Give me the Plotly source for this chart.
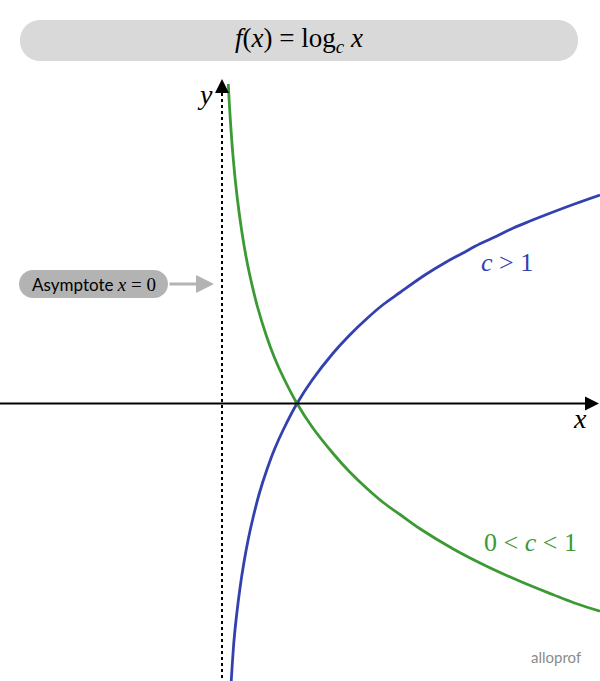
import plotly.graph_objects as go

W, H = 600, 681
UNIT = 75.0          # pixels per data unit on both axes
X0_PX, Y0_PX = 222, 403.5  # pixel position of the origin

# curve samples (x in units, y in units)
blue_x = [0.122, 0.16, 0.196, 0.24, 0.284, 0.35, 0.417, 0.5, 0.596, 0.7, 0.817, 1.0, 1.2, 1.48, 1.7, 1.929,
          2.15, 2.373, 2.7, 2.996, 3.2, 3.44, 3.66, 3.884, 4.1, 4.329, 4.7, 5.04]
blue_y = [-3.72, -3.16, -2.81, -2.46, -2.17, -1.81, -1.51, -1.19, -0.89, -0.61, -0.35, 0.0, 0.31, 0.67, 0.91, 1.13,
          1.32, 1.48, 1.71, 1.89, 2.0, 2.13, 2.23, 2.34, 2.43, 2.52, 2.66, 2.78]

green_x = [0.084, 0.11, 0.151, 0.2, 0.263, 0.32, 0.373, 0.47, 0.596, 0.7, 0.817, 1.0, 1.2, 1.484, 1.7, 1.929,
           2.15, 2.373, 2.64, 3.084, 3.529, 3.973, 4.417, 4.7, 5.04]
green_y = [4.26, 3.80, 3.25, 2.77, 2.30, 1.96, 1.70, 1.30, 0.89, 0.61, 0.35, 0.0, -0.31, -0.67, -0.91, -1.13,
           -1.32, -1.48, -1.67, -1.94, -2.17, -2.37, -2.55, -2.66, -2.77]

TITLE = "<i>f</i>(<i>x</i>) = log<sub><i>c</i></sub> <i>x</i>"
BLUE_LABEL = "<i>c</i> > 1"
GREEN_LABEL = "0 < <i>c</i> < 1"
ASYM_LABEL = 'Asymptote <span style="font-family:Liberation Serif;font-size:19px"><i>x</i> = 0</span>'

BLUE = "#3340b0"
GREEN = "#3b9a34"
SERIF = "Liberation Serif"


def dx(px):
    return (px - X0_PX) / UNIT


def dy(py):
    return (Y0_PX - py) / UNIT


def pill(x0, y0, x1, y1, r):
    """Rounded rectangle path, pixel coords in, data coords out."""
    k = 0.5523 * r
    pts = [
        ("M", [(x0 + r, y0)]), ("L", [(x1 - r, y0)]),
        ("C", [(x1 - r + k, y0), (x1, y0 + r - k), (x1, y0 + r)]),
        ("L", [(x1, y1 - r)]),
        ("C", [(x1, y1 - r + k), (x1 - r + k, y1), (x1 - r, y1)]),
        ("L", [(x0 + r, y1)]),
        ("C", [(x0 + r - k, y1), (x0, y1 - r + k), (x0, y1 - r)]),
        ("L", [(x0, y0 + r)]),
        ("C", [(x0, y0 + r - k), (x0 + r - k, y0), (x0 + r, y0)]),
    ]
    out = ""
    for cmd, ps in pts:
        out += cmd + " ".join(f"{dx(a):.4f},{dy(b):.4f}" for a, b in ps) + " "
    return out + "Z"


fig = go.Figure()
fig.add_trace(go.Scatter(x=blue_x, y=blue_y, mode="lines", line=dict(color=BLUE, width=2.8, shape="spline", smoothing=1),
                         hoverinfo="skip"))
fig.add_trace(go.Scatter(x=green_x, y=green_y, mode="lines", line=dict(color=GREEN, width=2.8, shape="spline", smoothing=1),
                         hoverinfo="skip"))

shapes = [
    dict(type="path", path=pill(20, 20, 578, 61, 20), fillcolor="#d9d9d9", line=dict(width=0), layer="below"),
    dict(type="path", path=pill(19, 270, 168, 298, 14), fillcolor="#b3b3b3", line=dict(width=0), layer="below"),
    # dotted asymptote / y axis
    dict(type="line", x0=0, x1=0, y0=dy(690), y1=dy(90), line=dict(color="black", width=2, dash="dot")),
]

annotations = [
    dict(text=TITLE, x=dx(299), y=dy(40), showarrow=False, font=dict(family=SERIF, size=27, color="black")),
    # x axis with arrow
    dict(x=dx(599), y=0, ax=dx(-5), ay=0, axref="x", ayref="y", text="", showarrow=True,
         arrowhead=2, arrowsize=1.4, arrowwidth=2, arrowcolor="black"),
    # y axis arrow head
    dict(x=0, y=dy(79), ax=0, ay=dy(92), axref="x", ayref="y", text="", showarrow=True,
         arrowhead=2, arrowsize=1.4, arrowwidth=2, arrowcolor="black"),
    dict(text="<i>y</i>", x=dx(205), y=dy(94), showarrow=False, font=dict(family=SERIF, size=28, color="black")),
    dict(text="<i>x</i>", x=dx(580), y=dy(418), showarrow=False, font=dict(family=SERIF, size=28, color="black")),
    dict(text=BLUE_LABEL, x=dx(507), y=dy(262), showarrow=False, font=dict(family=SERIF, size=26, color=BLUE)),
    dict(text=GREEN_LABEL, x=dx(530), y=dy(542), showarrow=False, font=dict(family=SERIF, size=26, color=GREEN)),
    dict(text=ASYM_LABEL, x=dx(94), y=dy(284), showarrow=False, font=dict(family="Lato", size=17, color="black")),
    # asymptote pointer
    dict(x=dx(214), y=dy(284), ax=dx(168), ay=dy(284), axref="x", ayref="y", text="", showarrow=True,
         arrowhead=2, arrowsize=1.2, arrowwidth=3, arrowcolor="#b3b3b3"),
    dict(text="alloprof", x=dx(556), y=dy(657), showarrow=False, font=dict(family="Lato", size=15, color="#8c8c8c")),
]

fig.update_layout(
    width=W, height=H, margin=dict(l=0, r=0, t=0, b=0, pad=0),
    paper_bgcolor="white", plot_bgcolor="white", showlegend=False,
    shapes=shapes, annotations=annotations,
    xaxis=dict(range=[dx(0), dx(W)], visible=False, fixedrange=True),
    yaxis=dict(range=[dy(H), dy(0)], visible=False, fixedrange=True),
)

# page body has an 8px default margin; drop it so the figure sits at the window origin
fig.write_html("out.html", config={"displayModeBar": False},
               post_script="document.body.style.margin='0';")
